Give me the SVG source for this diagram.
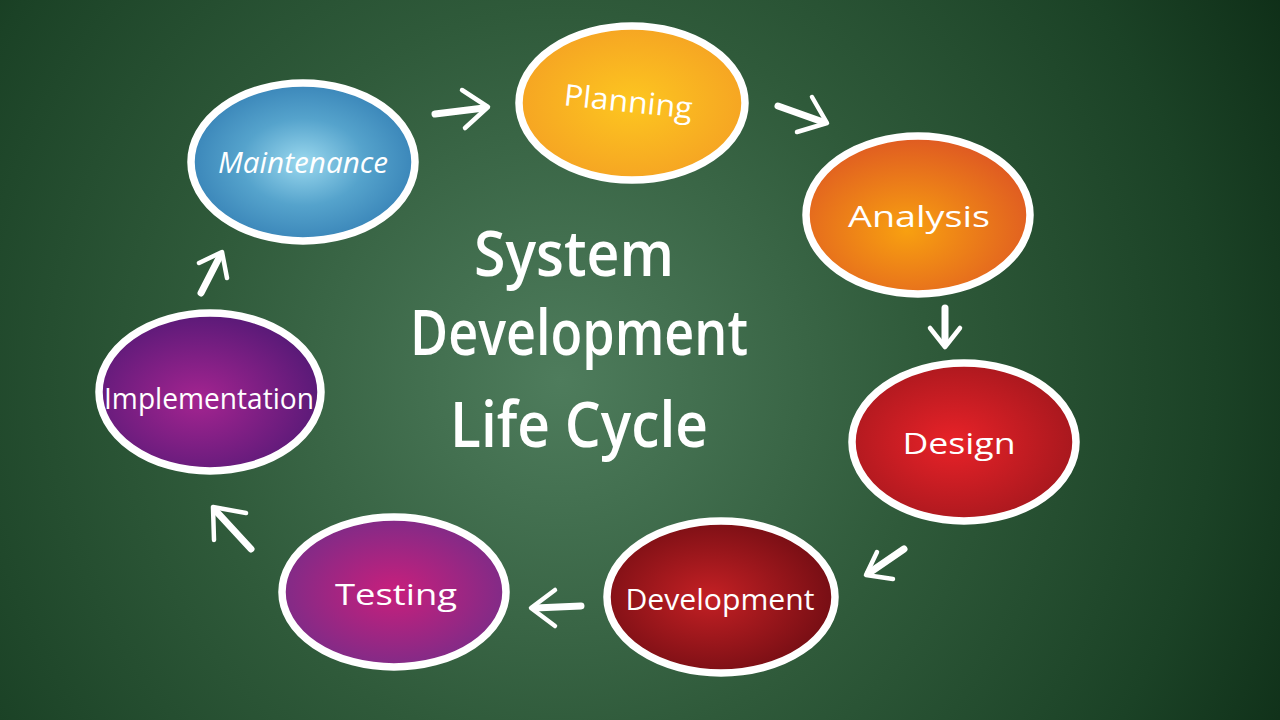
<svg xmlns="http://www.w3.org/2000/svg" width="1280" height="720" viewBox="0 0 1280 720">
<defs>
<radialGradient id="bg" cx="560" cy="380" r="820" gradientUnits="userSpaceOnUse">
<stop offset="0" stop-color="#4e7c5c"/>
<stop offset="0.45" stop-color="#2f5a3a"/>
<stop offset="0.8" stop-color="#1b4226"/>
<stop offset="1" stop-color="#0f2f18"/>
</radialGradient>
<radialGradient id="gBlue" cx="0.5" cy="0.5" r="0.55"><stop offset="0" stop-color="#9ad8ee"/><stop offset="0.5" stop-color="#55a3cc"/><stop offset="1" stop-color="#3580b5"/></radialGradient>
<radialGradient id="gYellow" cx="0.5" cy="0.5" r="0.55"><stop offset="0" stop-color="#fdc620"/><stop offset="1" stop-color="#f5a223"/></radialGradient>
<radialGradient id="gOrange" cx="0.45" cy="0.6" r="0.6"><stop offset="0" stop-color="#f8a010"/><stop offset="1" stop-color="#df5a22"/></radialGradient>
<radialGradient id="gRed" cx="0.45" cy="0.5" r="0.55"><stop offset="0" stop-color="#e82228"/><stop offset="1" stop-color="#a8181e"/></radialGradient>
<radialGradient id="gDark" cx="0.45" cy="0.5" r="0.55"><stop offset="0" stop-color="#c42024"/><stop offset="1" stop-color="#760e14"/></radialGradient>
<radialGradient id="gMagenta" cx="0.5" cy="0.5" r="0.55"><stop offset="0" stop-color="#c81f7c"/><stop offset="1" stop-color="#7a2c88"/></radialGradient>
<radialGradient id="gPurple" cx="0.45" cy="0.55" r="0.55"><stop offset="0" stop-color="#a42490"/><stop offset="1" stop-color="#5a1a78"/></radialGradient>
</defs>
<style>
.node{stroke:#fff;stroke-width:7.5}
.lbl{font-family:"Open Sans","Noto Sans","DejaVu Sans",sans-serif;font-size:30px;font-weight:500;fill:#fff;text-anchor:middle}
.title{font-family:"Open Sans","Noto Sans","DejaVu Sans",sans-serif;font-size:64px;font-weight:600;fill:#fff;text-anchor:middle}
.shaft{stroke:#fff;stroke-width:7;stroke-linecap:round;fill:none}
.head{stroke:#fff;stroke-width:4.5;stroke-linecap:round;stroke-linejoin:round;fill:none}
</style>
<rect width="1280" height="720" fill="url(#bg)"/>

<g id="title">
<text class="title" x="574" y="276" textLength="200" lengthAdjust="spacingAndGlyphs">System</text>
<text class="title" x="579" y="355" textLength="338" lengthAdjust="spacingAndGlyphs">Development</text>
<text class="title" x="579" y="447" textLength="258" lengthAdjust="spacingAndGlyphs">Life Cycle</text>
</g>

<g id="maintenance">
<ellipse class="node" cx="303" cy="162" rx="112" ry="79" fill="url(#gBlue)"/>
<text class="lbl" x="303" y="173" textLength="170" lengthAdjust="spacingAndGlyphs" font-style="italic">Maintenance</text>
</g>
<g id="planning">
<ellipse class="node" cx="632" cy="103" rx="113" ry="77" fill="url(#gYellow)"/>
<text class="lbl" x="628" y="112" textLength="129" lengthAdjust="spacingAndGlyphs" transform="rotate(6 628 104)">Planning</text>
</g>
<g id="analysis">
<ellipse class="node" cx="918" cy="215" rx="112" ry="79" fill="url(#gOrange)"/>
<text class="lbl" x="919" y="227" textLength="142" lengthAdjust="spacingAndGlyphs">Analysis</text>
</g>
<g id="design">
<ellipse class="node" cx="964" cy="442" rx="112" ry="79" fill="url(#gRed)"/>
<text class="lbl" x="959" y="454" textLength="113" lengthAdjust="spacingAndGlyphs">Design</text>
</g>
<g id="development">
<ellipse class="node" cx="721" cy="597" rx="114" ry="76" fill="url(#gDark)"/>
<text class="lbl" x="720" y="610" textLength="189" lengthAdjust="spacingAndGlyphs">Development</text>
</g>
<g id="testing">
<ellipse class="node" cx="394" cy="592" rx="112" ry="75" fill="url(#gMagenta)"/>
<text class="lbl" x="396" y="605" textLength="122" lengthAdjust="spacingAndGlyphs">Testing</text>
</g>
<g id="implementation">
<ellipse class="node" cx="210" cy="392" rx="111" ry="79" fill="url(#gPurple)"/>
<text class="lbl" x="209" y="409" textLength="210" lengthAdjust="spacingAndGlyphs">Implementation</text>
</g>

<g id="connectors">
<line class="shaft" x1="435" y1="114" x2="484" y2="108"/>
<polyline class="head" points="462,90 488,107 465,128"/>
<line class="shaft" x1="778" y1="106" x2="823" y2="122"/>
<polyline class="head" points="812,97 827,123 797,132"/>
<line class="shaft" x1="945" y1="308" x2="945" y2="343"/>
<polyline class="head" points="930,328 945,347 960,328"/>
<line class="shaft" x1="904" y1="549" x2="869" y2="573"/>
<polyline class="head" points="877,552 866,575 893,579"/>
<line class="shaft" x1="581" y1="606" x2="535" y2="608"/>
<polyline class="head" points="555,590 531,608 555,626"/>
<line class="shaft" x1="251" y1="549" x2="215" y2="510"/>
<polyline class="head" points="246,513 213,507 214,540"/>
<line class="shaft" x1="201" y1="293" x2="220" y2="256"/>
<polyline class="head" points="199,263 222,252 227,278"/>
</g>
</svg>
